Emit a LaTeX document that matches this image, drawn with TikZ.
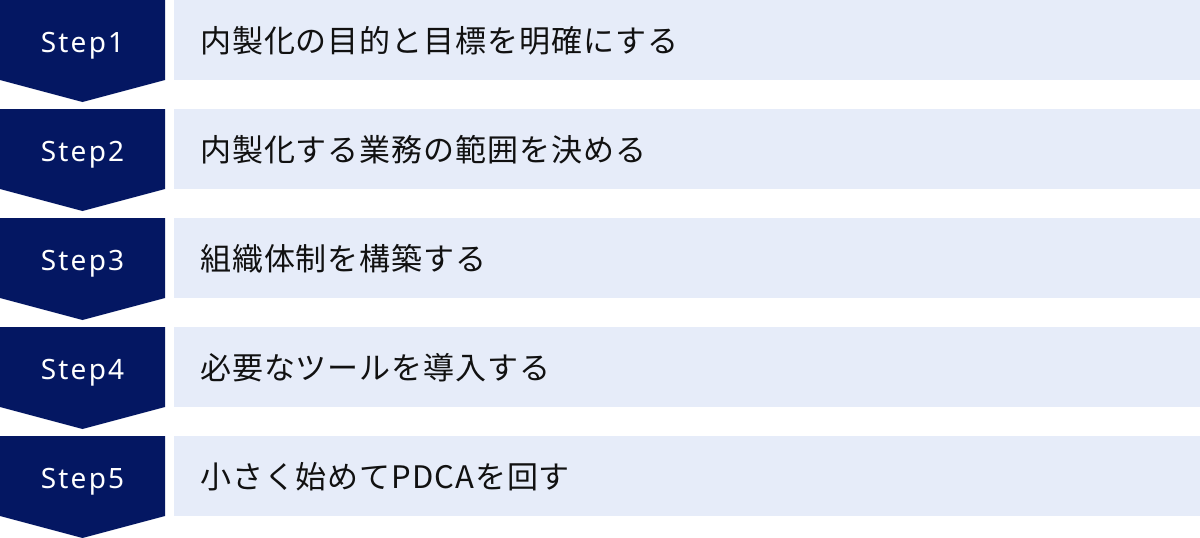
\documentclass[tikz,border=0pt]{standalone}
\usepackage{fontspec}
\newfontfamily\jpfont[LetterSpace=3]{Noto Sans CJK JP}
\newfontfamily\stepfont[LetterSpace=8]{Noto Sans}
\definecolor{StepNavy}{HTML}{041762}
\definecolor{BoxBlue}{HTML}{E6ECF9}
\definecolor{TextBlack}{HTML}{111111}
\tikzset{
  steplabel/.style={text=white, font=\stepfont\fontsize{28}{32}\selectfont, inner sep=0pt, anchor=base},
  stepitem/.style={text=TextBlack, font=\jpfont\fontsize{31}{36}\selectfont, inner sep=0pt, anchor=base west}
}

\begin{document}
\begin{tikzpicture}[x=1pt,y=1pt]
    \useasboundingbox (0,0) rectangle (1200,-538);
    \foreach \i/\txt in {1/内製化の目的と目標を明確にする,
                         2/内製化する業務の範囲を決める,
                         3/組織体制を構築する,
                         4/必要なツールを導入する,
                         5/小さく始めてPDCAを回す}{
        \pgfmathsetmacro{\rowtop}{-(\i-1)*109}
        \fill[StepNavy] (0,\rowtop) -- (165,\rowtop) -- (165,\rowtop-80) -- (82.5,\rowtop-102) -- (0,\rowtop-80) -- cycle;
        \fill[BoxBlue] (174,\rowtop) rectangle (1200,\rowtop-80);
        \node[steplabel] (step\i) at (82.5,\rowtop-52) {Step\i};
        \node[stepitem] (item\i) at (200,\rowtop-52) {\txt};
    }
\end{tikzpicture}
\end{document}
